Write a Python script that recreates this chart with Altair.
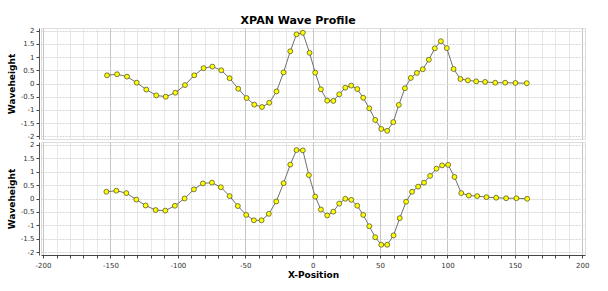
import altair as alt
import pandas as pd

title_text = "XPAN Wave Profile"
x_title = "X-Position"
y_title = "Waveheight"

top_x = [-152.5, -145.1, -137.7, -130.5, -123.4, -116.0, -109.0, -101.9, -94.7, -87.8,
         -80.9, -74.4, -67.8, -61.6, -55.2, -49.0, -43.3, -37.6, -32.2, -26.8,
         -21.6, -16.6, -12.0, -7.3, -2.3, 1.9, 6.1, 10.8, 15.3, 19.7,
         24.2, 28.6, 33.1, 37.5, 42.0, 46.4, 50.9, 55.3, 59.8, 63.9,
         68.4, 72.8, 77.3, 81.7, 86.2, 90.6, 95.1, 99.5, 104.5, 109.6,
         115.1, 121.3, 127.9, 135.4, 142.8, 150.4, 158.8]
top_y = [0.31, 0.35, 0.26, 0.03, -0.23, -0.45, -0.50, -0.35, -0.06, 0.31,
         0.58, 0.64, 0.50, 0.20, -0.20, -0.55, -0.80, -0.89, -0.73, -0.30,
         0.42, 1.22, 1.86, 1.92, 1.16, 0.41, -0.22, -0.65, -0.66, -0.41,
         -0.16, -0.08, -0.21, -0.54, -0.94, -1.38, -1.72, -1.79, -1.46, -0.81,
         -0.18, 0.21, 0.40, 0.54, 0.90, 1.33, 1.60, 1.34, 0.55, 0.17,
         0.12, 0.08, 0.06, 0.03, 0.03, 0.02, 0.01]

bot_x = [-153.0, -145.6, -138.2, -130.8, -123.9, -116.5, -109.3, -102.2, -95.0, -88.1,
         -81.4, -74.7, -68.1, -61.6, -55.5, -49.3, -43.6, -37.9, -32.5, -27.0,
         -21.6, -16.6, -12.0, -7.3, -2.8, 1.9, 6.1, 10.8, 15.3, 19.7,
         24.2, 28.6, 33.1, 37.5, 42.0, 46.4, 50.9, 55.3, 60.0, 64.6,
         69.3, 73.7, 78.2, 82.6, 87.1, 91.8, 96.0, 100.5, 105.2, 110.2,
         115.8, 122.0, 128.9, 136.1, 143.5, 151.1, 159.1]
bot_y = [0.25, 0.29, 0.20, -0.04, -0.26, -0.43, -0.45, -0.27, 0.0, 0.34,
         0.56, 0.59, 0.42, 0.09, -0.28, -0.61, -0.81, -0.81, -0.57, -0.11,
         0.57, 1.26, 1.80, 1.79, 0.87, 0.07, -0.41, -0.63, -0.49, -0.19,
         -0.01, -0.05, -0.27, -0.61, -1.03, -1.44, -1.72, -1.72, -1.37, -0.73,
         -0.12, 0.25, 0.44, 0.59, 0.84, 1.11, 1.23, 1.25, 0.80, 0.20,
         0.11, 0.09, 0.05, 0.03, 0.01, 0.01, -0.01]

x_ticks = list(range(-200, 201, 10))
y_ticks = [-2, -1.5, -1, -0.5, 0, 0.5, 1, 1.5, 2]

FONT = "DejaVu Sans"
W = 544

grid_color = alt.condition("datum.value % 50 === 0", alt.value("#c4c4c4"), alt.value("#e8e8e8"))


def panel(xs, ys, show_x, h):
    df = pd.DataFrame({"x": xs, "y": ys})
    if show_x:
        xaxis = alt.Axis(values=x_ticks, labelExpr="datum.value % 50 === 0 ? '' + datum.value : ''",
                         gridColor=grid_color, gridWidth=1, tickSize=3, tickColor="#444",
                         domainColor="#444", labelFontSize=7, labelFont=FONT, labelColor="#333",
                         labelPadding=3, title=x_title, titleFont=FONT, titleFontSize=9,
                         titleFontWeight="bold", titlePadding=2, labelFlush=False)
    else:
        xaxis = alt.Axis(values=x_ticks, labels=False, ticks=False, domain=False, title=None,
                         gridColor=grid_color, gridWidth=1, minExtent=0, maxExtent=0)
    yaxis = alt.Axis(values=y_ticks, labelExpr="'' + datum.value", gridColor="#d6d6d6",
                     gridDash=[2, 1], tickSize=3, tickColor="#444", domainColor="#555",
                     offset=2, labelFontSize=7, labelFont=FONT, labelColor="#333", labelPadding=2,
                     title=y_title, titleFont=FONT, titleFontSize=9, titleFontWeight="bold",
                     titlePadding=4)
    xs_ = alt.X("x:Q", scale=alt.Scale(domain=[-201.5, 202], nice=False, zero=False), axis=xaxis)
    ys_ = alt.Y("y:Q", scale=alt.Scale(domain=[-2.1, 2.1], nice=False), axis=yaxis)
    base = alt.Chart(df).encode(x=xs_, y=ys_)
    line = base.mark_line(color="#707070", strokeWidth=1)
    pts = base.mark_point(filled=True, shape="circle", size=24, fill="#ffff00",
                          stroke="#5a5a28", strokeWidth=0.8, opacity=1)
    return (line + pts).properties(width=W, height=h)


chart = alt.vconcat(panel(top_x, top_y, False, 111), panel(bot_x, bot_y, True, 113),
                    spacing=3, bounds="flush").properties(
    title=alt.TitleParams(title_text, font=FONT, fontSize=11, fontWeight="bold", anchor="middle",
                          offset=0, color="#000"),
    padding={"left": 6, "top": 15, "right": 5, "bottom": 1},
).configure_view(stroke="#b5b5b5", strokeWidth=1).configure(background="white")

chart.save("out.html", embed_options={"renderer": "svg", "actions": False})
